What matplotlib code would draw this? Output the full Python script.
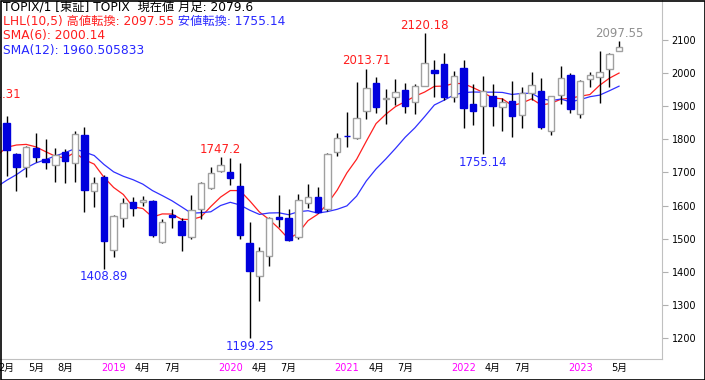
import matplotlib
matplotlib.use("Agg")
import matplotlib.pyplot as plt
from matplotlib.patches import Rectangle
import numpy as np
import pandas as pd

plt.rcParams['font.family'] = ['DejaVu Sans', 'Noto Sans CJK JP']

# monthly bars, Jan 2018 .. May 2023
months = pd.period_range('2018-01', '2023-05', freq='M')
opens = [1831, 1848, 1755, 1716, 1773, 1741, 1722, 1762, 1727, 1813, 1645, 1687,
         1466, 1563, 1612, 1610, 1615, 1489, 1572, 1554, 1504, 1589, 1652, 1704,
         1700, 1659, 1488, 1387, 1449, 1565, 1561, 1506, 1609, 1625, 1589, 1763,
         1810, 1803, 1886, 1971, 1921, 1927, 1948, 1914, 1962, 2010, 2027, 1929,
         2015, 1907, 1900, 1932, 1897, 1916, 1873, 1941, 1945, 1825, 1933, 1994,
         1876, 1981, 1987, 2012, 2068]
highs = [1911.31, 1870, 1760, 1780, 1818, 1800, 1773, 1772, 1826, 1836, 1685, 1692,
         1570, 1624, 1627, 1629, 1617, 1560, 1591, 1562, 1632, 1672, 1717, 1747.2,
         1743, 1728, 1549, 1476, 1565, 1632, 1589, 1636, 1665, 1657, 1758, 1820,
         1883, 1974, 2013.71, 1987, 1951, 1981, 1971, 1967, 2120.18, 2040, 2060, 2007,
         2040, 1967, 1992, 1966, 1924, 1976, 1957, 2004, 1984, 1929, 2021, 1999,
         1978, 2002, 2068, 2062, 2097.55]
lows = [1816, 1689, 1644, 1686, 1733, 1709, 1670, 1667, 1672, 1580, 1597, 1408.89,
        1446, 1536, 1569, 1599, 1506, 1488, 1531, 1463, 1500, 1558, 1650, 1700,
        1662, 1500, 1199.25, 1313, 1417, 1536, 1494, 1500, 1592, 1577, 1582, 1750,
        1776, 1800, 1860, 1879, 1846, 1904, 1880, 1876, 1962, 1927, 1920, 1914,
        1833, 1843, 1755.14, 1841, 1826, 1808, 1835, 1919, 1830, 1813, 1907, 1880,
        1864, 1959, 1911, 1959, 2068]
closes = [1836.71, 1768.24, 1716.30, 1777.23, 1747.45, 1730.89, 1753.29, 1735.35,
          1817.25, 1646.12, 1667.45, 1494.09,
          1567.49, 1607.66, 1591.64, 1617.93, 1512.28, 1551.14, 1565.14, 1511.86,
          1587.80, 1667.01, 1699.36, 1721.36,
          1684.44, 1510.87, 1403.04, 1464.03, 1563.67, 1558.77, 1496.06, 1618.18,
          1625.49, 1579.33, 1754.92, 1804.68,
          1808.78, 1864.49, 1954.00, 1898.24, 1922.98, 1943.57, 1901.08, 1960.70,
          2030.16, 2001.18, 1928.35, 1992.33,
          1895.93, 1886.93, 1946.40, 1899.62, 1912.67, 1870.82, 1940.31, 1963.16,
          1835.94, 1929.43, 1985.57, 1891.71,
          1975.27, 1993.28, 2003.50, 2057.48, 2079.6]
# closes Feb..Dec 2017, only needed to start the moving averages
prev_closes = [1535.32, 1512.60, 1531.80, 1568.37, 1611.90, 1618.61, 1617.41,
               1674.75, 1765.96, 1792.08, 1817.56]

tick_months = ['2018-02', '2018-05', '2018-08', '2019-01', '2019-04', '2019-07',
               '2020-01', '2020-04', '2020-07', '2021-01', '2021-04', '2021-07',
               '2022-01', '2022-04', '2022-07', '2023-01', '2023-05']

high_marks = ['2018-01', '2019-12', '2021-03', '2021-09']
low_marks = ['2018-12', '2020-03', '2022-03']

o = np.array(opens); h = np.array(highs); l = np.array(lows); c = np.array(closes)
x = np.arange(len(months))
up = c >= o

allc = pd.Series(prev_closes + closes)
sma6 = allc.rolling(6).mean().values[len(prev_closes):]
sma12 = allc.rolling(12).mean().values[len(prev_closes):]

fig = plt.figure(figsize=(7.05, 3.8), dpi=100)
ax = fig.add_axes([0, 21/380, 662/705, 359/380])

ax.plot(x, sma6, color='#ff2020', lw=0.9, zorder=2)
ax.plot(x, sma12, color='#3030ff', lw=0.9, zorder=2)

ax.vlines(x, l, h, color='black', lw=1, zorder=3)
body_lo = np.minimum(o, c)
body_h = np.maximum(np.abs(c - o), 2.5)
ax.bar(x[up], body_h[up], bottom=body_lo[up], width=0.66,
       color='white', edgecolor='#a0a0a0', lw=1, zorder=4)
ax.bar(x[~up], body_h[~up], bottom=body_lo[~up], width=0.66,
       color='#0000dd', edgecolor='#0000dd', lw=1, zorder=4)

pos = {str(m): i for i, m in enumerate(months)}
for m in high_marks:
    i = pos[m]
    ax.annotate('%g' % h[i], (x[i], h[i]), xytext=(0, 3), textcoords='offset points',
                ha='center', va='baseline', color='#ff1e1e', fontsize=8.5, zorder=5,
                annotation_clip=False)
for m in low_marks:
    i = pos[m]
    ax.annotate('%g' % l[i], (x[i], l[i]), xytext=(0, -8.2), textcoords='offset points',
                ha='center', va='baseline', color='#2828ff', fontsize=8.5, zorder=5)
ax.annotate('%g' % h[-1], (x[-1], h[-1]), xytext=(0, 3), textcoords='offset points',
            ha='center', va='baseline', color='#909090', fontsize=8.5, zorder=5)

ax.set_xlim(0.31, 68.42)
ax.set_ylim(1136.5, 2220.8)

ax.yaxis.tick_right()
ax.set_yticks(np.arange(1200, 2101, 100))
ax.tick_params(axis='y', length=4, color='#b0b0b0', labelsize=7, pad=3)
tick_x = [pos[m] for m in tick_months]
tick_lab = [m[:4] if m.endswith('-01') else '%d月' % int(m[5:]) for m in tick_months]
ax.set_xticks(tick_x)
ax.set_xticklabels(tick_lab)
ax.tick_params(axis='x', length=0, labelsize=7, pad=3)
for t, m in zip(ax.get_xticklabels(), tick_months):
    if m.endswith('-01'):
        t.set_color('#ff00ff')

for s in ['top', 'left']:
    ax.spines[s].set_visible(False)
for s in ['right', 'bottom']:
    ax.spines[s].set_color('#c0c0c0')

# header
hx = 3/705
fs = 8.8
fig.text(hx, 1 - 10/380, 'TOPIX/1 [東証] TOPIX  現在値 月足: 2079.6', fontsize=fs, va='baseline')
t2 = fig.text(hx, 1 - 25/380, 'LHL(10,5) 高値転換: %g' % h[-1], fontsize=fs,
              va='baseline', color='#ff1e1e')
ax.annotate(' 安値転換: %g' % l[pos['2022-03']], xy=(1, 0), xycoords=t2,
            va='bottom', fontsize=fs, color='#2828ff', annotation_clip=False)
fig.text(hx, 1 - 39.5/380, 'SMA(6): %.2f' % sma6[-1], fontsize=fs, va='baseline', color='#ff1e1e')
fig.text(hx, 1 - 54/380, 'SMA(12): %.6f' % sma12[-1], fontsize=fs, va='baseline', color='#2828ff')

fig.add_artist(Rectangle((0.5/705, 0.5/380), 1 - 1/705, 1 - 1/380, transform=fig.transFigure,
                         fill=False, ec='black', lw=1.2))

fig.savefig('out.png', dpi=100)
